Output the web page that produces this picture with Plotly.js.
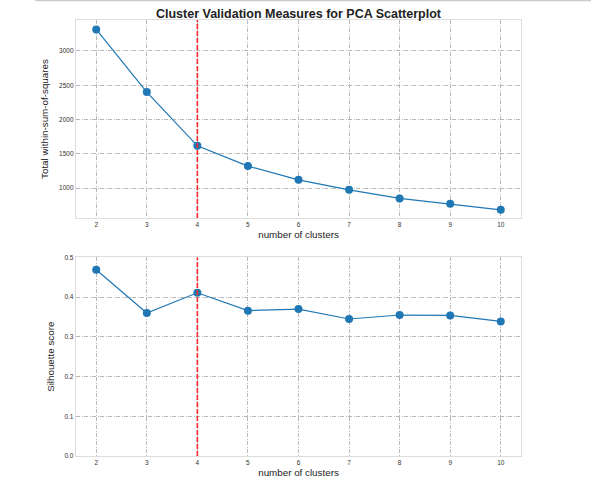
<!DOCTYPE html>
<html>
<head>
<meta charset="utf-8">
<script src="https://cdn.plot.ly/plotly-3.0.1.min.js"></script>
<style>html,body{margin:0;padding:0;background:#fff;}#chart{width:591px;height:488px;}</style>
</head>
<body>
<div id="chart"></div>
<script>
// Data
const clusters = [2, 3, 4, 5, 6, 7, 8, 9, 10];
const wss = [3314, 2401, 1617, 1321, 1121, 975, 850, 771, 683];
const silhouette = [0.469, 0.360, 0.411, 0.366, 0.370, 0.345, 0.355, 0.354, 0.339];
const chosenK = 4;
const titleText = "Cluster Validation Measures for PCA Scatterplot";
const xTitle = "number of clusters";
const yTitleTop = "Total within-sum-of-squares";
const yTitleBottom = "Silhouette score";
const wssTicks = [1000, 1500, 2000, 2500, 3000];
const silTicks = [0.0, 0.1, 0.2, 0.3, 0.4, 0.5];

const FONT = "Liberation Sans, Arial, sans-serif";
const blue = "#1f77b4";
const gridDash = "4px,1.5px,1px,1.5px";
const redDash = "5px,2px";

const lineTrace = (y, xa, ya) => ({
  x: clusters, y: y, xaxis: xa, yaxis: ya,
  type: "scatter", mode: "lines+markers",
  line: {color: blue, width: 1.2},
  marker: {color: blue, size: 8},
  showlegend: false, hoverinfo: "x+y"
});

const axisCommon = {
  showline: true, mirror: true, linecolor: "#dddddd", linewidth: 1.2,
  showgrid: true, gridcolor: "#a8a8a8", griddash: gridDash, gridwidth: 0.8,
  zeroline: false, ticks: "", tickfont: {family: FONT, size: 6.5, color: "#333"},
  automargin: false
};

const layout = {
  width: 591, height: 488,
  margin: {l: 76, r: 70, t: 20, b: 32},
  paper_bgcolor: "#fff", plot_bgcolor: "#fff",
  font: {family: FONT},
  title: {text: "<b>" + titleText + "</b>", x: 0.5, xref: "paper", y: 1 - 14/488, yanchor: "middle",
          font: {family: FONT, size: 12.5, color: "#222"}},
  xaxis: Object.assign({}, axisCommon, {
    domain: [0, 1], anchor: "y", range: [1.6, 10.4], tickvals: clusters,
    title: {text: xTitle, font: {family: FONT, size: 9.8, color: "#222"}, standoff: 4}
  }),
  yaxis: Object.assign({}, axisCommon, {
    domain: [0.5456, 1], anchor: "x", range: [562, 3452], tickvals: wssTicks,
    title: {text: yTitleTop, font: {family: FONT, size: 9.8, color: "#222"}, standoff: 8}
  }),
  xaxis2: Object.assign({}, axisCommon, {
    domain: [0, 1], anchor: "y2", range: [1.6, 10.4], tickvals: clusters,
    title: {text: xTitle, font: {family: FONT, size: 9.8, color: "#222"}, standoff: 4}
  }),
  yaxis2: Object.assign({}, axisCommon, {
    domain: [0, 0.4554], anchor: "x2", range: [0, 0.5], tickvals: silTicks, tickformat: ".1f",
    title: {text: yTitleBottom, font: {family: FONT, size: 9.8, color: "#222"}, standoff: 8}
  }),
  shapes: [
    {type: "line", xref: "x", yref: "y domain", x0: chosenK, x1: chosenK, y0: 0, y1: 1,
     line: {color: "#ff2a2a", width: 1.6, dash: redDash}},
    {type: "line", xref: "x2", yref: "y2 domain", x0: chosenK, x1: chosenK, y0: 0, y1: 1,
     line: {color: "#ff2a2a", width: 1.6, dash: redDash}},
    {type: "line", xref: "paper", yref: "paper", x0: -0.092, x1: 1.16, y0: 1.0447, y1: 1.0447,
     line: {color: "#cccccc", width: 1.5}}
  ]
};

Plotly.newPlot("chart", [lineTrace(wss, "x", "y"), lineTrace(silhouette, "x2", "y2")], layout,
  {displayModeBar: false, staticPlot: true});
</script>
</body>
</html>
